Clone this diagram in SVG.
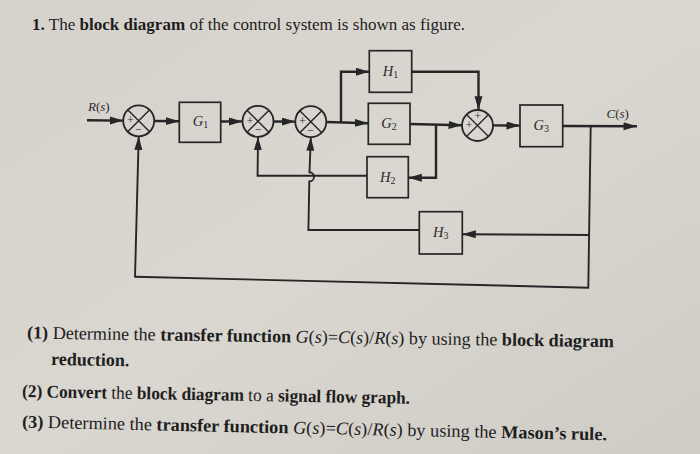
<svg xmlns="http://www.w3.org/2000/svg" xmlns:xlink="http://www.w3.org/1999/xlink" width="700" height="454" viewBox="0 0 700 454">
<defs>
<linearGradient id="bg" x1="0" y1="0" x2="1" y2="1">
<stop offset="0" stop-color="#d5d2cc"/>
<stop offset="0.5" stop-color="#dad7d1"/>
<stop offset="1" stop-color="#cfccc6"/>
</linearGradient>
<marker id="ah" markerUnits="userSpaceOnUse" markerWidth="15" markerHeight="9" refX="13.5" refY="4" viewBox="0 0 15 9" orient="auto">
<path d="M0,0 L13.5,4 L0,8 z" fill="#262626"/>
</marker>
<g id="sumj">
<circle r="15.5" fill="none" stroke="#262626" stroke-width="1.8"/>
<path d="M-11,-11 L11,11 M-11,11 L11,-11" stroke="#262626" stroke-width="1.4"/>
</g>
<style>
.box{fill:none;stroke:#262626;stroke-width:1.7}
.fw{fill:none;stroke:#262626;stroke-width:2.4;marker-end:url(#ah)}
.fb{fill:none;stroke:#262626;stroke-width:1.9}
.fba{fill:none;stroke:#262626;stroke-width:1.9;marker-end:url(#ah)}
.lbl{font-family:"Liberation Serif","Times New Roman",serif;font-style:italic;font-size:14.5px;fill:#2a2a2a;text-anchor:middle}
.sub{font-style:normal;font-size:10px}
.sig{font-family:"Liberation Serif","Times New Roman",serif;font-size:11.5px;fill:#2a2a2a;text-anchor:middle}
.sl{font-family:"Liberation Serif","Times New Roman",serif;font-style:italic;font-size:13px;fill:#2a2a2a}
.up{font-style:normal}
.txt{font-family:"Liberation Serif","Times New Roman",serif;fill:#1e1e1e}
.b{font-weight:bold}
.i{font-style:italic}
</style>
</defs>
<rect x="0" y="0" width="700" height="454" fill="url(#bg)"/>

<g id="connectors">
<path class="fw" d="M87,120.3 L123.2,120.6"/>
<path class="fw" d="M154.2,121 L179.3,121.3"/>
<path class="fw" d="M220.7,121.5 L242.5,121.4"/>
<path class="fw" d="M273.5,121.5 L295.3,121.6"/>
<path class="fw" d="M326.3,122 L368.3,123.3"/>
<path class="fw" d="M341,122.6 L341,71.7 L369.3,71.7"/>
<path class="fw" d="M411.7,71.7 L478.5,71.7 L478.5,109.8"/>
<path class="fw" d="M410,124 L462,125.2"/>
<path class="fw" d="M436,124.3 L436,177.8 L408.3,177.8"/>
<path class="fw" d="M493,125.4 L520,125.6"/>
<path class="fw" d="M562.7,126 L637,126.3"/>
<path class="fb" d="M590.7,126.1 L588.3,287.7 L135,276.7"/>
<path class="fba" d="M135,277.6 L138.7,136.3"/>
<path class="fba" d="M589.5,235 L462.3,234.2"/>
<path class="fba" d="M419.3,230 L308.4,230 L309.3,181.4 A4.6 4.6 0 0 0 309.5,172.2 L310.8,137.2"/>
<path class="fba" d="M367,175.8 L257.6,175.8 L258,136.8"/>
</g>

<g id="sum1"><use xlink:href="#sumj" href="#sumj" x="138.7" y="120.8"/><text class="sig" x="130.5" y="123.8">+</text><text class="sig" x="138.6" y="132.6">−</text></g>
<g id="sum2"><use xlink:href="#sumj" href="#sumj" x="258" y="121.3"/><text class="sig" x="250" y="124.6">+</text><text class="sig" x="258.2" y="133.4">−</text></g>
<g id="sum3"><use xlink:href="#sumj" href="#sumj" x="310.8" y="121.7"/><text class="sig" x="302.5" y="125.2">+</text><text class="sig" x="310.6" y="134.2">−</text></g>
<g id="sum4"><use xlink:href="#sumj" href="#sumj" x="477.5" y="125.5"/><text class="sig" x="477.7" y="119.6">+</text><text class="sig" x="469" y="128.8">+</text></g>

<g id="G1"><rect class="box" x="179.3" y="102.3" width="41.4" height="40"/><text class="lbl" x="200.5" y="126.4">G<tspan class="sub" dy="2">1</tspan></text></g>
<g id="G2"><rect class="box" x="368.3" y="103.3" width="41.7" height="41"/><text class="lbl" x="389" y="128.2">G<tspan class="sub" dy="2">2</tspan></text></g>
<g id="H1"><rect class="box" x="369.3" y="50.7" width="42.4" height="41.6"/><text class="lbl" x="390.5" y="76">H<tspan class="sub" dy="2">1</tspan></text></g>
<g id="H2"><rect class="box" x="367" y="156.7" width="41.3" height="41"/><text class="lbl" x="387.7" y="181.6">H<tspan class="sub" dy="2">2</tspan></text></g>
<g id="H3"><rect class="box" x="419.3" y="211.7" width="43" height="42.3"/><text class="lbl" x="440.8" y="237">H<tspan class="sub" dy="2">3</tspan></text></g>
<g id="G3"><rect class="box" x="520" y="105" width="42.7" height="41.7"/><text class="lbl" x="541.3" y="130.3">G<tspan class="sub" dy="2">3</tspan></text></g>

<g id="signals">
<text class="sl" x="88" y="110.5">R<tspan class="up">(</tspan>s<tspan class="up">)</tspan></text>
<text class="sl" x="606.5" y="117.5">C<tspan class="up">(</tspan>s<tspan class="up">)</tspan></text>
</g>

<g id="text">
<text class="txt" x="32" y="30" font-size="17" textLength="433" lengthAdjust="spacingAndGlyphs"><tspan class="b">1.</tspan> The <tspan class="b">block diagram</tspan> of the control system is shown as figure.</text>
<text class="txt" x="27" y="338.5" font-size="18" textLength="587" lengthAdjust="spacingAndGlyphs" transform="rotate(0.85 27 338.5)"><tspan class="b">(1)</tspan> Determine the <tspan class="b">transfer function</tspan> <tspan class="i">G</tspan>(<tspan class="i">s</tspan>)=<tspan class="i">C</tspan>(<tspan class="i">s</tspan>)/<tspan class="i">R</tspan>(<tspan class="i">s</tspan>) by using the <tspan class="b">block diagram</tspan></text>
<text class="txt b" x="51" y="365" font-size="18" transform="rotate(0.9 51 365)">reduction.</text>
<text class="txt" x="22" y="397" font-size="18" textLength="388" lengthAdjust="spacingAndGlyphs" transform="rotate(1.0 22 397)"><tspan class="b">(2) Convert</tspan> the <tspan class="b">block diagram</tspan> to a <tspan class="b">signal flow graph.</tspan></text>
<text class="txt" x="22" y="427.5" font-size="18" textLength="585" lengthAdjust="spacingAndGlyphs" transform="rotate(1.25 22 427.5)"><tspan class="b">(3)</tspan> Determine the <tspan class="b">transfer function</tspan> <tspan class="i">G</tspan>(<tspan class="i">s</tspan>)=<tspan class="i">C</tspan>(<tspan class="i">s</tspan>)/<tspan class="i">R</tspan>(<tspan class="i">s</tspan>) by using the <tspan class="b">Mason’s rule.</tspan></text>
</g>
</svg>
